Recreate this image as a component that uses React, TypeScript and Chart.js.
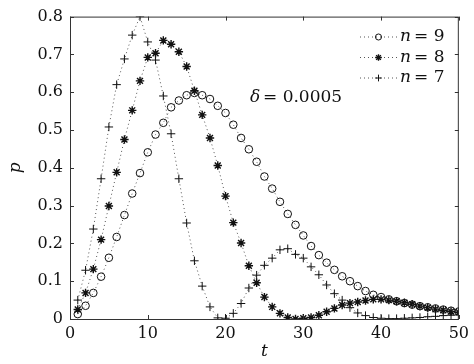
import React, { useEffect, useRef } from "react";
import { Chart, registerables } from "chart.js";
import { drawPoint } from "chart.js/helpers";

Chart.register(...registerables);

const tValues: number[] = Array.from({ length: 50 }, (_, i) => i + 1);

const n9Values: number[] = [
  0.013, 0.035, 0.069, 0.112, 0.162, 0.217, 0.275, 0.332, 0.386, 0.441,
  0.488, 0.519, 0.56, 0.578, 0.592, 0.598, 0.592, 0.582, 0.564, 0.545,
  0.514, 0.479, 0.449, 0.416, 0.377, 0.345, 0.31, 0.278, 0.249, 0.221,
  0.193, 0.169, 0.149, 0.13, 0.113, 0.1, 0.087, 0.074, 0.064, 0.058,
  0.052, 0.047, 0.042, 0.038, 0.034, 0.031, 0.028, 0.025, 0.022, 0.02,
];

const n8Values: number[] = [
  0.025, 0.069, 0.132, 0.21, 0.299, 0.388, 0.475, 0.552, 0.63, 0.692,
  0.703, 0.737, 0.727, 0.707, 0.668, 0.604, 0.54, 0.479, 0.406, 0.325,
  0.255, 0.201, 0.141, 0.096, 0.058, 0.032, 0.015, 0.004, 0.0, 0.002,
  0.004, 0.01, 0.019, 0.028, 0.037, 0.042, 0.045, 0.049, 0.052, 0.052,
  0.05, 0.047, 0.043, 0.039, 0.034, 0.03, 0.026, 0.023, 0.02, 0.018,
];

const n7Values: number[] = [
  0.05, 0.129, 0.238, 0.371, 0.508, 0.62, 0.688, 0.751, 0.8, 0.733,
  0.685, 0.59, 0.49, 0.371, 0.254, 0.154, 0.087, 0.032, 0.003, 0.002,
  0.015, 0.041, 0.082, 0.116, 0.142, 0.161, 0.183, 0.186, 0.171, 0.161,
  0.138, 0.117, 0.09, 0.067, 0.05, 0.03, 0.016, 0.009, 0.004, 0.002,
  0.001, 0.001, 0.002, 0.003, 0.004, 0.006, 0.007, 0.009, 0.01, 0.011,
];

const seriesLabels: string[] = ["9", "8", "7"];
const xTicks: number[] = [0, 10, 20, 30, 40, 50];
const yTicks: number[] = [0, 0.1, 0.2, 0.3, 0.4, 0.5, 0.6, 0.7, 0.8];
const annotationSymbol = "δ";
const annotationValue = "= 0.0005";

const FONT = "'DejaVu Serif', 'Liberation Serif', serif";
const LINE_COLOR = "#555";

const framePlugin = {
  id: "frameAndLegend",
  afterDraw(chart: any) {
    const { ctx, chartArea, scales } = chart;
    const { left, right, top, bottom } = chartArea;
    ctx.save();
    ctx.strokeStyle = "#333";
    ctx.lineWidth = 1;
    ctx.strokeRect(left + 0.5, top + 0.5, right - left - 1, bottom - top);
    const tl = 4;
    ctx.beginPath();
    xTicks.forEach((v) => {
      const x = Math.round(scales.x.getPixelForValue(v)) + 0.5;
      ctx.moveTo(x, bottom);
      ctx.lineTo(x, bottom - tl);
      ctx.moveTo(x, top);
      ctx.lineTo(x, top + tl);
    });
    yTicks.forEach((v) => {
      const y = Math.round(scales.y.getPixelForValue(v)) + 0.5;
      ctx.moveTo(left, y);
      ctx.lineTo(left + tl, y);
      ctx.moveTo(right, y);
      ctx.lineTo(right - tl, y);
    });
    ctx.stroke();

    // legend
    const lx0 = 360;
    const lx1 = 397;
    const ly0 = 37;
    const lstep = 20.5;
    chart.data.datasets.forEach((ds: any, i: number) => {
      const y = ly0 + i * lstep;
      ctx.save();
      ctx.strokeStyle = ds.borderColor;
      ctx.lineWidth = ds.borderWidth;
      ctx.setLineDash(ds.borderDash);
      ctx.beginPath();
      ctx.moveTo(lx0, y);
      ctx.lineTo(lx1, y);
      ctx.stroke();
      ctx.restore();
      ctx.save();
      ctx.strokeStyle = ds.pointBorderColor;
      ctx.fillStyle = ds.pointBackgroundColor;
      ctx.lineWidth = ds.pointBorderWidth;
      drawPoint(
        ctx,
        { pointStyle: ds.pointStyle, radius: ds.pointRadius * 0.8, borderWidth: ds.pointBorderWidth, rotation: 0 } as any,
        (lx0 + lx1) / 2,
        y
      );
      ctx.restore();
      ctx.fillStyle = "#111";
      ctx.textBaseline = "middle";
      ctx.textAlign = "left";
      ctx.font = `italic 17px ${FONT}`;
      ctx.fillText("n", 400, y);
      ctx.font = `17px ${FONT}`;
      ctx.fillText("= " + seriesLabels[i], 414, y);
    });

    // annotation
    ctx.fillStyle = "#111";
    ctx.textBaseline = "middle";
    ctx.textAlign = "left";
    ctx.font = `italic 17px ${FONT}`;
    ctx.fillText(annotationSymbol, 250, 98);
    ctx.font = `17px ${FONT}`;
    ctx.fillText(annotationValue, 263, 98);
    ctx.restore();
  },
};

export default function App() {
  const canvasRef = useRef<HTMLCanvasElement | null>(null);

  useEffect(() => {
    if (!canvasRef.current) return;
    const common = {
      showLine: true,
      borderColor: LINE_COLOR,
      borderWidth: 1,
      borderDash: [1, 3],
      pointBorderColor: "#111",
      pointBackgroundColor: "rgba(0,0,0,0)",
      pointHoverRadius: 4,
      tension: 0,
    };
    const toXY = (vals: number[]) => vals.map((v, i) => ({ x: tValues[i], y: v }));
    const chart = new Chart(canvasRef.current, {
      type: "scatter",
      data: {
        datasets: [
          { ...common, label: "n = 9", data: toXY(n9Values), pointStyle: "circle", pointRadius: 3.8, pointBorderWidth: 1 },
          { ...common, label: "n = 8", data: toXY(n8Values), pointStyle: "star", pointRadius: 4.2, pointBorderWidth: 1.4 },
          { ...common, label: "n = 7", data: toXY(n7Values), pointStyle: "cross", pointRadius: 4.2, pointBorderWidth: 1 },
        ],
      },
      options: {
        animation: false,
        responsive: false,
        maintainAspectRatio: false,
        layout: { padding: { top: 12, right: 13, left: 0, bottom: 0 } },
        plugins: { legend: { display: false }, tooltip: { enabled: false } },
        scales: {
          x: {
            type: "linear",
            min: 0,
            max: 50,
            afterFit: (s: any) => { s.height = 45; },
            afterBuildTicks: (s: any) => { s.ticks = xTicks.map((v) => ({ value: v })); },
            grid: { display: false, drawTicks: false },
            border: { display: false },
            ticks: { color: "#111", font: { family: FONT, size: 16 }, padding: 5, maxRotation: 0, callback: (v: any) => String(v) },
            title: { display: true, text: "t", color: "#111", font: { family: FONT, size: 17, style: "italic" }, padding: { top: 0, bottom: 2 } },
          },
          y: {
            type: "linear",
            min: 0,
            max: 0.8,
            afterFit: (s: any) => { s.width = 70; },
            afterBuildTicks: (s: any) => { s.ticks = yTicks.map((v) => ({ value: v })); },
            grid: { display: false, drawTicks: false },
            border: { display: false },
            ticks: { color: "#111", font: { family: FONT, size: 16 }, padding: 7, callback: (v: any) => (v === 0 ? "0" : Number(v).toFixed(1)) },
            title: { display: true, text: "p", color: "#111", font: { family: FONT, size: 17, style: "italic" }, padding: { top: 5, bottom: 0 } },
          },
        },
      },
      plugins: [framePlugin],
    });
    return () => chart.destroy();
  }, []);

  return (
    <div style={{ position: "fixed", left: 0, top: 0, width: 474, height: 364, background: "#fff" }}>
      <canvas ref={canvasRef} width={474} height={364} style={{ width: 474, height: 364 }} />
    </div>
  );
}
